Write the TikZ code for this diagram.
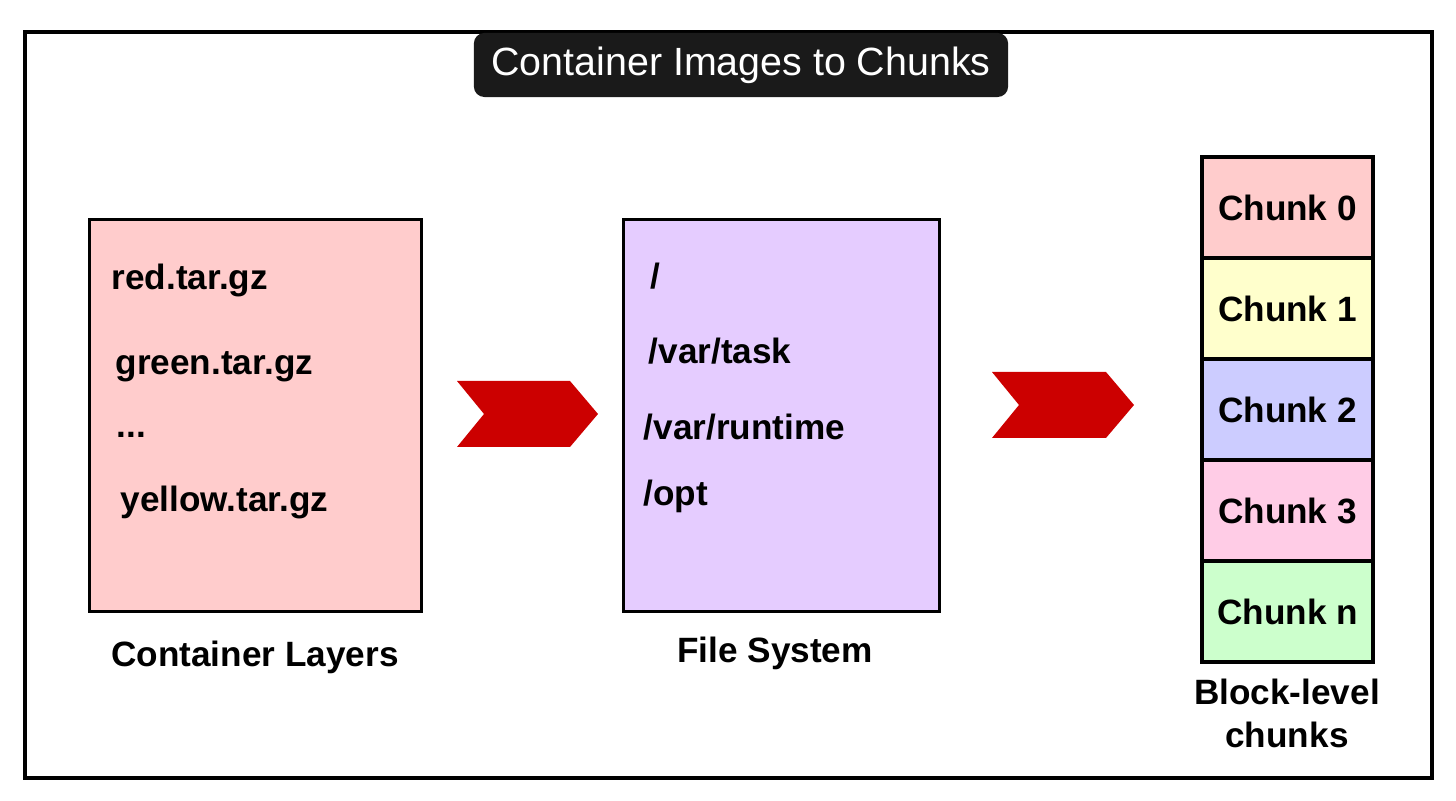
\documentclass[tikz,border=0pt]{standalone}
\usepackage{fontspec}
\setmainfont{Liberation Sans}
\usetikzlibrary{positioning}
\definecolor{layerred}{HTML}{FFCCCC}
\definecolor{fslilac}{HTML}{E5CCFF}
\definecolor{chunkyellow}{HTML}{FFFFCC}
\definecolor{chunkblue}{HTML}{CCCCFF}
\definecolor{chunkpink}{HTML}{FFCCE6}
\definecolor{chunkgreen}{HTML}{CCFFCC}
\definecolor{titlebg}{HTML}{1A1A1A}
\definecolor{chevronred}{HTML}{CC0000}
\tikzset{
  bigbox/.style={draw, line width=0.9pt, outer sep=0pt, minimum height=3.91cm},
  entry/.style={anchor=base west, inner sep=0pt, font=\bfseries\fontsize{10}{12}\selectfont},
  caption/.style={inner sep=0pt, align=center, font=\bfseries\fontsize{10}{12.2}\selectfont},
  chunkbox/.style={draw, line width=0.9pt, outer sep=0pt, minimum width=1.71cm, minimum height=1.01cm, font=\bfseries\fontsize{10}{12}\selectfont}
}

\begin{document}
\begin{tikzpicture}[x=0.01cm, y=-0.01cm]
		\useasboundingbox (0,0) rectangle (1456,801);
		\draw [line width=0.9pt](25,32) rectangle (1432,778);
		\node [fill=titlebg, rounded corners=3pt, minimum width=5.34cm, minimum height=0.64cm, text=white, font=\fontsize{11.2}{13}\selectfont](title)at (741,65) {Container Images to Chunks};

		% container layers
		\node [bigbox, fill=layerred, minimum width=3.31cm](layers)at (255.5,415.5) {};
		\node [entry](red)at (111,290) {red.tar.gz};
		\node [entry](green)at (115,375) {green.tar.gz};
		\node [entry](dots)at (116,438) {...};
		\node [entry](yellow)at (120,512) {yellow.tar.gz};
		\node [caption](layerscap)at (255,657) {Container Layers};

		% file system
		\node [bigbox, fill=fslilac, minimum width=3.15cm](fs)at (781.5,415.5) {};
		\node [entry](root)at (650,289) {/};
		\node [entry](task)at (648,364) {/var/task};
		\node [entry](runtime)at (643,440) {/var/runtime};
		\node [entry](opt)at (643,506) {/opt};
		\node [caption](fscap)at (775,653) {File System};

		% chevrons
		\fill [chevronred](457,381)--(570,381)--(598,414)--(570,447)--(457,447)--(484,414)--cycle;
		\fill [chevronred](992,372)--(1106,372)--(1134,405)--(1106,438)--(992,438)--(1019,405)--cycle;

		% chunks
		\foreach \lbl/\col [count=\i from 0] in {0/layerred, 1/chunkyellow, 2/chunkblue, 3/chunkpink, n/chunkgreen}
			\node [chunkbox, fill=\col](c\i)at (1287.5,{207.5+101*\i}) {Chunk \lbl};
		\node [caption](chunkcap)at (1287,713) {Block-level\\chunks};
	\end{tikzpicture}
\end{document}
